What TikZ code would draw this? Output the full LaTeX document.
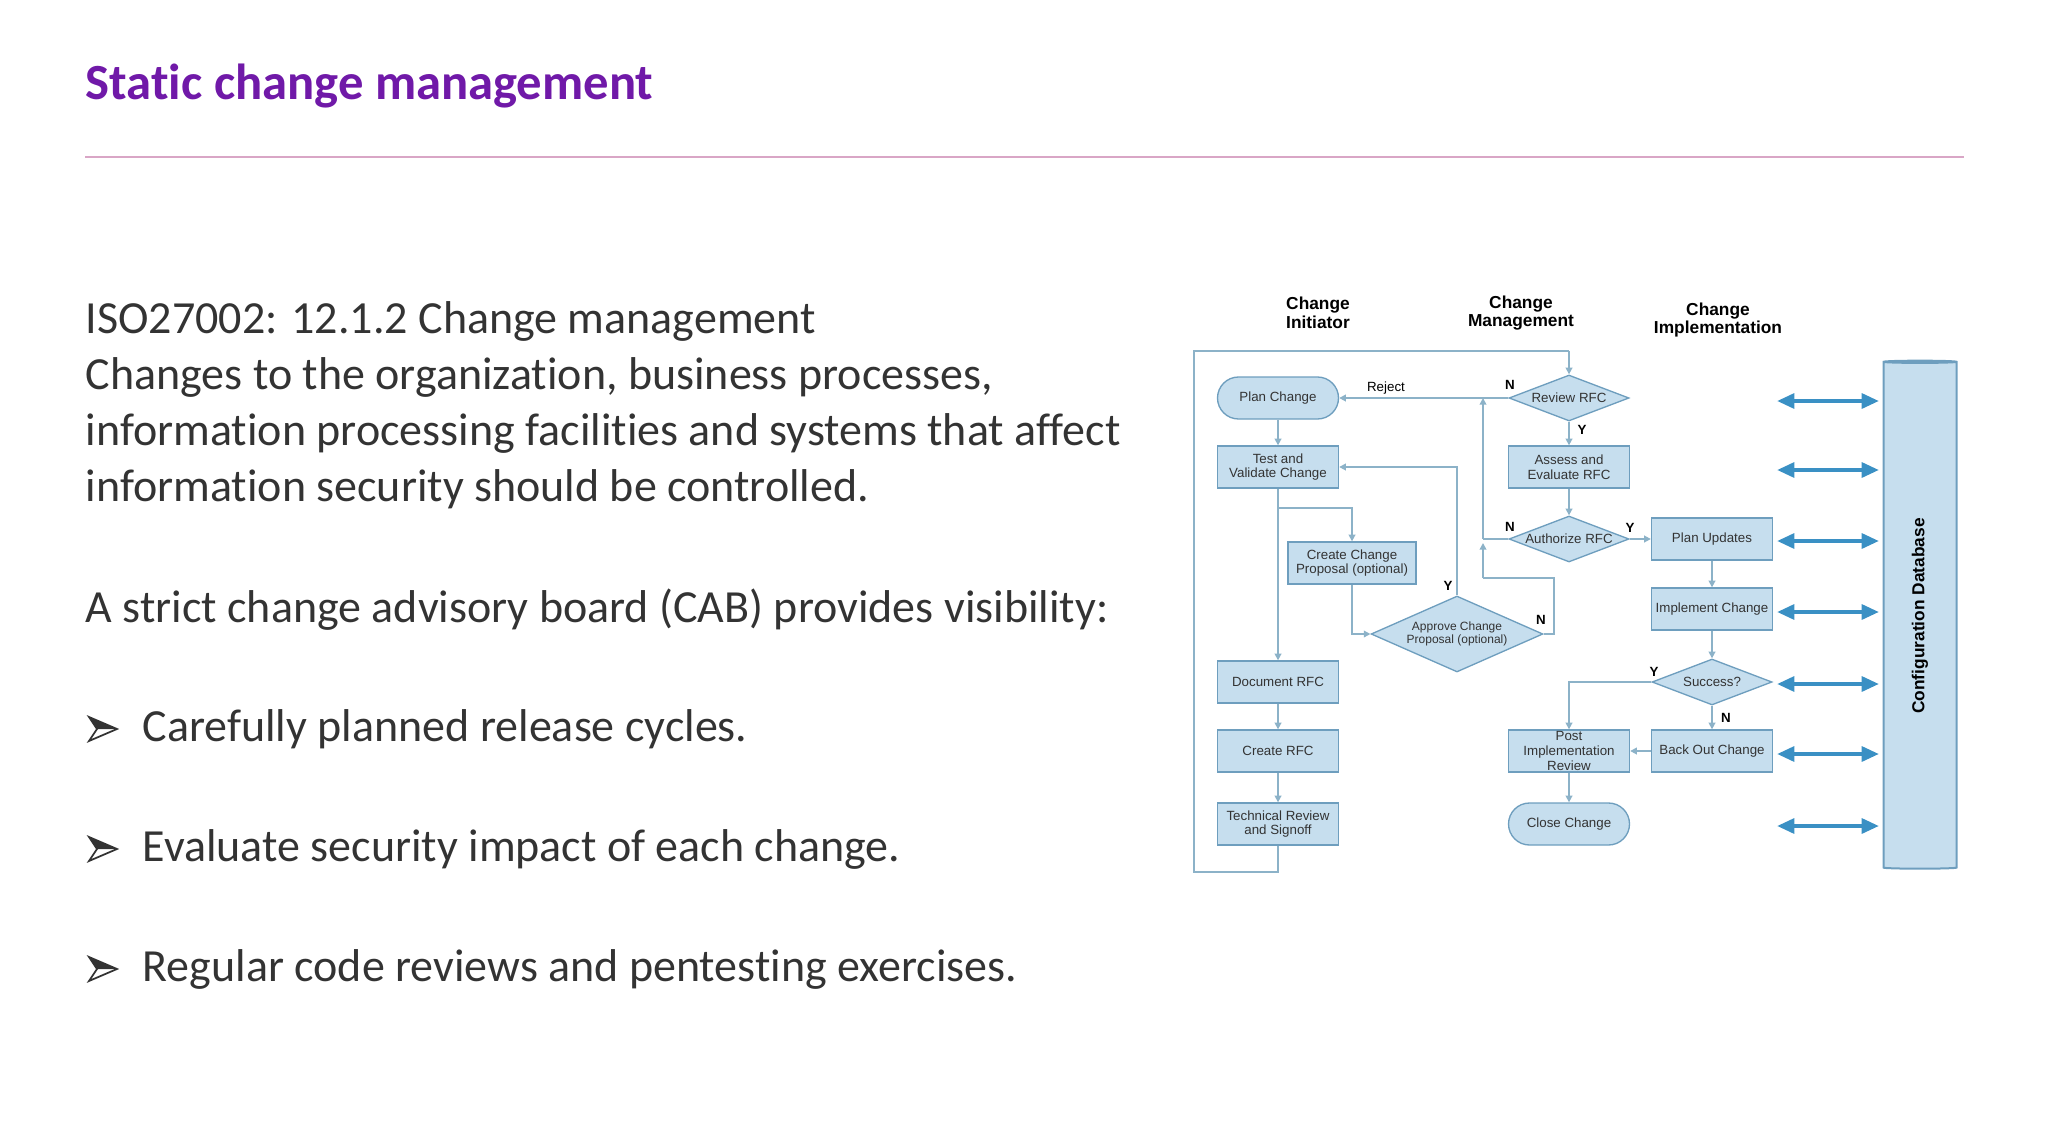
\documentclass[tikz,border=0pt]{standalone}
\usepackage{fontspec}
\setmainfont{Carlito}[Ligatures=NoCommon]
\newfontfamily\arialf{Liberation Sans}
\usetikzlibrary{shapes.geometric,arrows.meta,calc}
\definecolor{ttl}{HTML}{7019A8}
\definecolor{rule}{HTML}{D9A6C6}
\definecolor{boxf}{HTML}{C6DEEE}
\definecolor{boxd}{HTML}{6E9EBE}
\definecolor{conn}{HTML}{8CB2C8}
\definecolor{dbl}{HTML}{3A90C4}
\definecolor{txt}{HTML}{333333}
\begin{document}
\begin{tikzpicture}[x=0.75pt,y=-0.75pt,
  box/.style={draw=boxd,fill=boxf,line width=1pt,minimum width=121*0.75pt,minimum height=42*0.75pt,inner sep=1pt,align=center,font=\arialf\fontsize{10}{11}\selectfont,text=black!80},
  term/.style={box,rounded corners=21*0.75pt},
  dia/.style={box,diamond,aspect=2.9,inner sep=0pt,minimum width=0pt,minimum height=0pt},
  con/.style={draw=conn,line width=1.2pt,-{Triangle[width=5pt,length=5pt]}},
  lin/.style={draw=conn,line width=1.2pt},
  yn/.style={font=\arialf\bfseries\fontsize{10}{11}\selectfont},
  hd/.style={font=\arialf\bfseries\fontsize{13}{14}\selectfont,align=center},
  dbla/.style={draw=dbl,line width=3pt,{Triangle[width=11pt,length=13pt]}-{Triangle[width=11pt,length=13pt]}},
  body/.style={anchor=base west,font=\fontsize{34.5}{40}\selectfont,text=txt}]
\useasboundingbox (0,0) rectangle (2048,1145);
% title
\node[anchor=base west,font=\bfseries\fontsize{38}{44}\selectfont,text=ttl] (title) at (81,100) {Static change management};
\draw[rule,line width=1pt] (85,157) -- (1964,157);
% body
\node[body] (l1) at (81,333) {ISO27002: 12.1.2 Change management};
\node[body] (l2) at (81,389) {Changes to the organization, business processes,};
\node[body] (l3) at (81,445) {information processing facilities and systems that affect};
\node[body] (l4) at (81,501) {information security should be controlled.};
\node[body] (l5) at (81,622) {A strict change advisory board (CAB) provides visibility:};
\foreach \yy/\tt [count=\i] in {741/Carefully planned release cycles., 861/Evaluate security impact of each change., 981/Regular code reviews and pentesting exercises.}{
  \node[body] (b\i) at (138,\yy) {\tt};
  \draw[txt,line width=1.3pt,line join=miter,fill=white] (89,\yy-24) -- (117,\yy-12) -- (89,\yy) -- (97,\yy-12) -- cycle;
  \fill[txt] (89,\yy-24) -- (117,\yy-12) -- (97,\yy-12) -- cycle;
}
% headers
\node[hd] (h1) at (1318,313) {Change\\Initiator};
\node[hd] (h2) at (1521,313) {Change\\Management};
\node[hd] (h3) at (1718,320) {Change\\Implementation};
% nodes
\node[term] (pc) at (1278,398) {Plan Change};
\node[box] (tv) at (1278,467) {Test and\\Validate Change};
\node[box,minimum width=128*0.75pt] (ccp) at (1352,563) {Create Change\\Proposal (optional)};
\node[dia,minimum width=163*0.75pt,minimum height=76*0.75pt,font=\arialf\fontsize{9}{10}\selectfont] (acp) at (1457,634) {Approve Change\\Proposal (optional)};
\node[box] (doc) at (1278,682) {Document RFC};
\node[box] (crfc) at (1278,751) {Create RFC};
\node[box] (tr) at (1278,824) {Technical Review\\and Signoff};
\node[dia,minimum width=120*0.75pt,minimum height=46*0.75pt] (rrfc) at (1569,398) {Review RFC};
\node[box] (ae) at (1569,467) {Assess and\\Evaluate RFC};
\node[dia,minimum width=120*0.75pt,minimum height=46*0.75pt] (arfc) at (1569,539) {Authorize RFC};
\node[box] (pu) at (1712,539) {Plan Updates};
\node[box] (ic) at (1712,609) {Implement Change};
\node[dia,minimum width=120*0.75pt,minimum height=46*0.75pt] (suc) at (1712,682) {Success?};
\node[box] (bo) at (1712,751) {Back Out Change};
\node[box] (pir) at (1569,751) {Post\\Implementation\\Review};
\node[term] (cc) at (1569,824) {Close Change};
% database cylinder
\node[cylinder,shape border rotate=90,draw=boxd,fill=boxf,line width=1.5pt,minimum width=73*0.75pt,minimum height=508*0.75pt,aspect=0.25] (db) at (1920,616) {};
\node[rotate=90,font=\arialf\bfseries\fontsize{13}{14}\selectfont] (dbt) at (db.center) {Configuration Database};
% double arrows
\foreach \yy [count=\i] in {401,470,541,612,684,754,826}{
  \coordinate (da\i) at (1777,\yy); \coordinate (db\i) at (1879,\yy);
  \draw[dbla] (da\i) -- (db\i);
}
% connectors
\draw[con] (pc) -- (tv);
\draw[con] (tv) -- (doc);
\draw[con] (doc) -- (crfc);
\draw[con] (crfc) -- (tr);
\coordinate (br) at (1278,508);
\draw[con] (br) -| (ccp.north);
\draw[con] (ccp.south) |- (acp.west);
\draw[con] (acp.north) |- (tv.east);
\node[yn] (yacp) at (1448,586) {Y};
\draw[con] (rrfc.west) -- (pc.east);
\node[font=\arialf\fontsize{10}{11}\selectfont] (rej) at (1386,388) {Reject};
\node[yn] (nr) at (1510,385) {N};
\draw[con] (rrfc) -- (ae);
\node[yn] (yr) at (1582,430) {Y};
\draw[con] (ae) -- (arfc);
\draw[con] (arfc) -- (pu);
\node[yn] (ya) at (1630,528) {Y};
\node[yn] (na) at (1510,527) {N};
\coordinate (v1) at (1483,578);
\coordinate (v2) at (1554,578);
\draw[lin] (acp.east) -| (v2) -- (v1);
\node[yn] (nacp) at (1541,620) {N};
\draw[con] (v1) -- (1483,543);
\draw[lin] (arfc.west) -- (1483,539);
\draw[con] (1483,539) -- (1483,398);
\draw[con] (pu) -- (ic);
\draw[con] (ic) -- (suc);
\draw[con] (suc) -- (bo);
\node[yn] (ns) at (1726,718) {N};
\draw[con] (suc.west) -| (pir.north);
\node[yn] (ys) at (1654,672) {Y};
\draw[con] (bo) -- (pir);
\draw[con] (pir) -- (cc);
\coordinate (lp1) at (1278,872);
\coordinate (lp2) at (1194,872);
\coordinate (lp3) at (1194,351);
\coordinate (lp4) at (1569,351);
\draw[lin] (tr.south) -- (lp1) -- (lp2) -- (lp3) -- (lp4);
\draw[con] (lp4) -- (rrfc.north);
\end{tikzpicture}
\end{document}
